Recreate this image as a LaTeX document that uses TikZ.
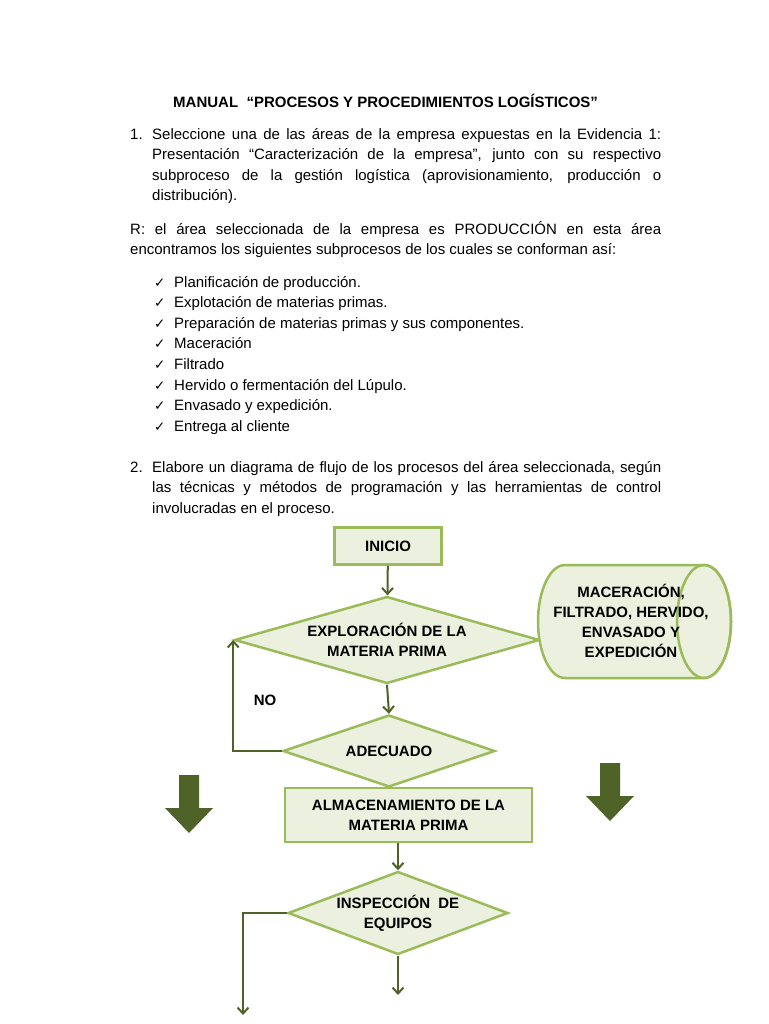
\documentclass[tikz,border=0pt]{standalone}
\usepackage{fontspec}
\setmainfont{Liberation Sans}
\newfontfamily\symbfont{DejaVu Sans}
\usepackage{tikz}
\usetikzlibrary{arrows.meta,calc,shapes.geometric}
\definecolor{mygreen}{RGB}{155,187,89}
\definecolor{myfill}{RGB}{235,241,222}
\definecolor{mydark}{RGB}{79,98,40}
\hyphenpenalty=10000
\exhyphenpenalty=10000

\tikzset{
  body/.style={inner sep=0pt, font=\fontsize{15}{20.5}\selectfont},
  para/.style={body, anchor=north west, align=justify},
  flow/.style={inner sep=0pt, align=center, font=\bfseries\fontsize{15}{20}\selectfont},
  box/.style={flow, draw=mygreen, fill=myfill, line width=2.5pt},
  decision/.style={flow, diamond, draw=mygreen, fill=myfill, line width=2.5pt},
  arr/.style={->, draw=mydark, line width=2pt}
}

\begin{document}
\begin{tikzpicture}[x=1pt, y=-1pt, >={Straight Barb[length=6pt,width=11pt]}]
        \useasboundingbox[fill=white] (0,0) rectangle (768,1024);

        % -- Heading --
        \node[body, anchor=west, font=\bfseries\fontsize{15}{20.5}\selectfont] (title) at (173,101)
            {MANUAL~ “PROCESOS Y PROCEDIMIENTOS LOGÍSTICOS”};

        % -- Point 1 --
        \node[para] (num1) at (130,124.6) {\strut 1.};
        \node[para, text width=509pt] (pt1) at (152,124.6)
            {\strut Seleccione una de las áreas de la empresa expuestas en la Evidencia 1:\linebreak
             Presentación “Caracterización de la empresa”, junto con su respectivo\linebreak
             subproceso de la gestión logística (aprovisionamiento, producción o\linebreak
             distribución).};

        % -- Answer --
        \node[para, text width=531pt] (resp) at (130,219.6)
            {\strut R: el área seleccionada de la empresa es PRODUCCIÓN en esta área\linebreak
             encontramos los siguientes subprocesos de los cuales se conforman así:};

        % -- Subprocesses, one check mark per line (on the baseline) --
        \foreach \sub [count=\i from 0] in {Planificación de producción.,
                Explotación de materias primas.,
                Preparación de materias primas y sus componentes.,
                Maceración, Filtrado, Hervido o fermentación del Lúpulo.,
                Envasado y expedición., Entrega al cliente}{
            \node[body, anchor=base west] (chk\i) at (154,{287+20.6*\i}) {\symbfont\fontsize{13.5}{13.5}\selectfont ✓};
            \node[body, anchor=base west] (sub\i) at (174,{287+20.6*\i}) {\sub};
        }

        % -- Point 2 --
        \node[para] (num2) at (130,457.6) {\strut 2.};
        \node[para, text width=509pt] (pt2) at (152,457.6)
            {\strut Elabore un diagrama de flujo de los procesos del área seleccionada, según\linebreak
             las técnicas y métodos de programación y las herramientas de control\linebreak
             involucradas en el proceso.};

        % -- Flowchart: boxes and decisions --
        \node[box, minimum width=107pt, minimum height=37pt] (inicio) at (388,546) {INICIO};
        \node[decision, aspect=3.5, minimum width=305pt, minimum height=87pt] (explo) at (387,640)
            {EXPLORACIÓN DE LA\\MATERIA PRIMA};
        \node[decision, aspect=2.9, minimum width=212pt, minimum height=72pt] (ade) at (389,751) {ADECUADO};
        \node[box, minimum width=247pt, minimum height=54pt] (alm) at (408.5,815)
            {ALMACENAMIENTO DE LA\\MATERIA PRIMA};
        \node[decision, aspect=2.65, minimum width=220pt, minimum height=83pt] (insp) at (398,913)
            {INSPECCIÓN~ DE\\EQUIPOS};
        \node[flow] (no) at (265,700) {NO};

        % -- Horizontal cylinder, end face drawn before the text --
        \filldraw[draw=mygreen, fill=myfill, line width=2.5pt]
            (565,565) -- (704,565) arc[start angle=90, end angle=-90, x radius=27pt, y radius=56.5pt]
            -- (565,678) arc[start angle=270, end angle=90, x radius=27pt, y radius=56.5pt] -- cycle;
        \draw[mygreen, line width=2.5pt] (704,621.5) ellipse[x radius=27pt, y radius=56.5pt];
        \node[flow] (mace) at (631,620.5) {MACERACIÓN,\\FILTRADO, HERVIDO,\\ENVASADO Y\\ EXPEDICIÓN};

        % -- Connectors --
        \coordinate (fin1) at (398,995);
        \coordinate (fin2) at (243,1015);
        \draw[arr] (inicio) -- (explo);
        \draw[arr] (explo.south) -- (ade.north);
        \draw[arr] (ade.west) -| (explo.west);
        \draw[arr] (insp.north |- alm.south) -- (insp.north);
        \draw[arr] (insp.south) -- (fin1);
        \draw[arr] (insp.west) -| (fin2);

        % -- Big block arrows at both sides --
        \foreach \cx/\ty in {189/775, 610/763}
            \fill[mydark] ({\cx-10},\ty) -- ({\cx+10},\ty) -- ({\cx+10},\ty+33) -- ({\cx+24},\ty+33)
                -- (\cx,\ty+58) -- ({\cx-24},\ty+33) -- ({\cx-10},\ty+33) -- cycle;

    \end{tikzpicture}
\end{document}
